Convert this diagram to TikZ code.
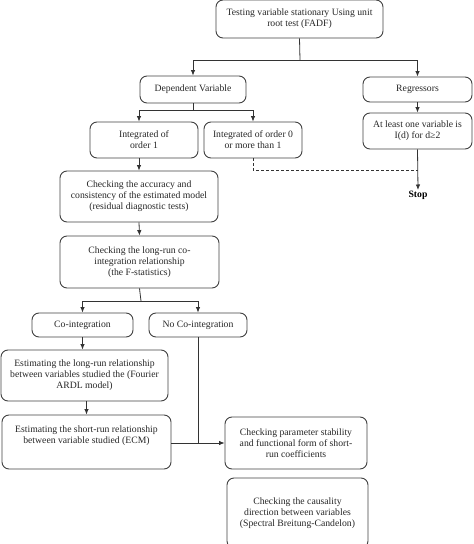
\documentclass[tikz,border=0pt]{standalone}
\usepackage{fontspec}
\setmainfont{Liberation Serif}
\usetikzlibrary{arrows.meta}
\begin{document}
\begin{tikzpicture}[x=1bp,y=-1bp,
  box/.style={draw=black!75,line width=0.9bp,rounded corners=7bp,align=center,
    inner sep=0pt,font=\fontsize{9.7bp}{11bp}\selectfont,text=black!85},
  conn/.style={draw=black!80,line width=0.8bp},
  arr/.style={conn,-{Latex[length=5.5bp,width=4.5bp]}}]
\useasboundingbox (0,0) rectangle (474,544);
\clip (0,0) rectangle (474,544);
\node[box,minimum width=167bp,minimum height=38bp] (top) at (299.5,19) {Testing variable stationary Using unit\\root test (FADF)};
\node[box,minimum width=106bp,minimum height=27bp] (dep) at (193,89.5) {Dependent Variable};
\node[box,minimum width=109bp,minimum height=25bp] (reg) at (417.5,89.5) {Regressors};
\node[box,minimum width=109bp,minimum height=36bp] (atl) at (417.5,131) {At least one variable is\\I(d) for d≥2};
\node[box,minimum width=108bp,minimum height=36bp] (i1) at (144,140) {Integrated of\\order 1};
\node[box,minimum width=98bp,minimum height=36bp] (i0) at (253,140) {Integrated of order 0\\or more than 1};
\node[box,minimum width=158bp,minimum height=51bp] (acc) at (139,196.5) {Checking the accuracy and\\consistency of the estimated model\\(residual diagnostic tests)};
\node[box,minimum width=159bp,minimum height=52bp] (lr) at (139.5,262) {Checking the long-run co-\\integration relationship\\(the F-statistics)};
\node[box,minimum width=101bp,minimum height=24bp] (coint) at (82.5,325) {Co-integration};
\node[box,minimum width=98bp,minimum height=24bp] (nocoint) at (198,325) {No Co-integration};
\node[box,minimum width=167bp,minimum height=51bp] (lrel) at (84.5,375.5) {Estimating the long-run relationship\\between variables studied the (Fourier\\ARDL model)};
\node[box,minimum width=169bp,minimum height=54bp] (srel) at (86.5,442) {Estimating the short-run relationship\\between variable studied (ECM)\\\strut};
\node[box,minimum width=142bp,minimum height=52bp] (param) at (296,443) {Checking parameter stability\\and functional form of short-\\run coefficients};
\node[box,minimum width=141bp,minimum height=70bp] (caus) at (297.5,513) {Checking the causality\\direction between variables\\(Spectral Breitung-Candelon)};
\node[font=\fontsize{9.7bp}{11bp}\selectfont\bfseries,anchor=north,inner sep=1bp] (stop) at (418,190) {Stop};
\coordinate (j1) at (300,60);
\coordinate (j2) at (193,110);
\coordinate (j3) at (141,301);
\coordinate (d1) at (418,170);
\draw[conn] (top.south) -- (j1);
\draw[arr] (j1) -| (dep.north);
\draw[arr] (j1) -| (reg.north);
\draw[arr] (reg.south) -- (atl.south |- reg.south) -- (atl.north);
\draw[arr] (atl.south) -- (stop.north);
\draw[conn] (dep.south) -- (j2);
\draw[arr] (j2) -| ([xshift=-5bp]i1.north);
\draw[arr] (j2) -| (i0.north);
\draw[conn,dashed,dash pattern=on 3bp off 2bp] (i0.south) |- (d1);
\draw[arr] (acc.north |- i1.south) -- (acc.north);
\draw[arr] (acc.south) -- (lr.north);
\draw[conn] (lr.south) -- (j3);
\draw[arr] (j3) -| (coint.north);
\draw[arr] (j3) -| (nocoint.north);
\draw[arr] (coint.south) -- (coint.south |- lrel.north);
\draw[arr] (srel.north |- lrel.south) -- (srel.north);
\draw[arr] (srel.east |- param.west) -- (param.west);
\draw[conn] (nocoint.south) -- (nocoint.south |- param.west);
\end{tikzpicture}
\end{document}
